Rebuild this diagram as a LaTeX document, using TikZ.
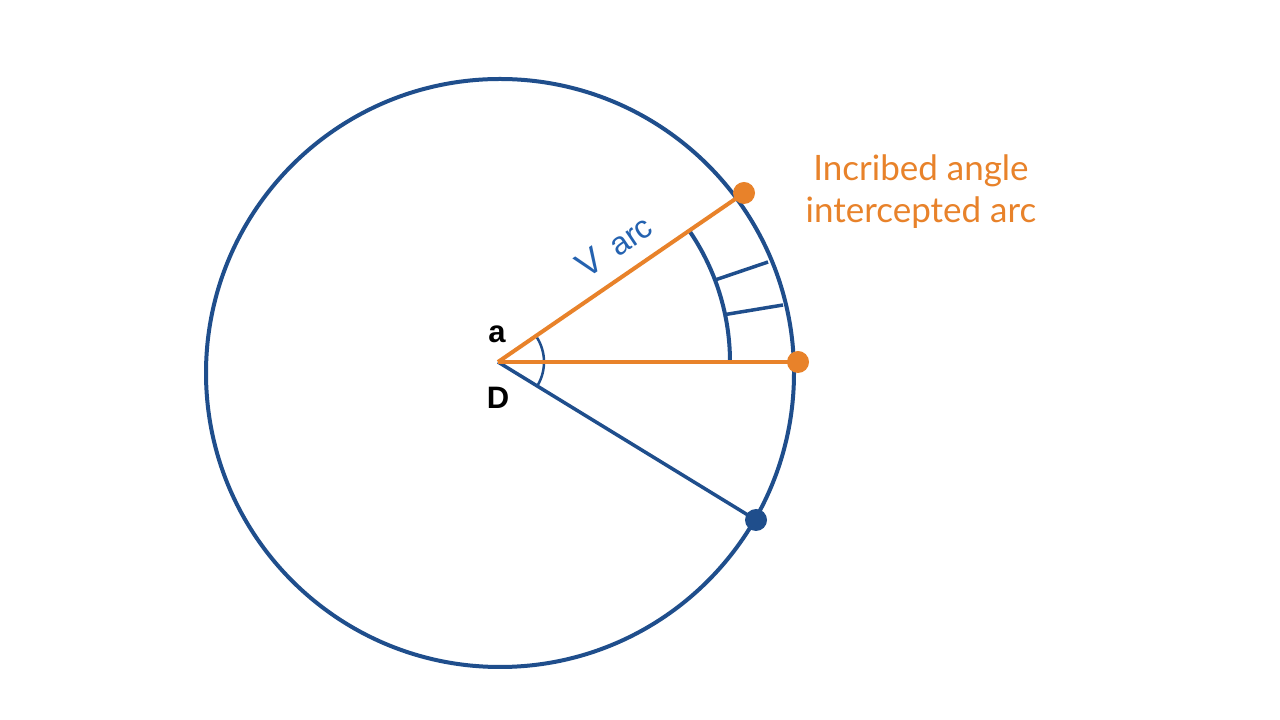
\documentclass[tikz,border=0pt]{standalone}
\usepackage{fontspec}
\usetikzlibrary{calc}
\setmainfont{Liberation Sans}
\newfontfamily\notefont{Lato}
\definecolor{cblue}{HTML}{1F4E8C}
\definecolor{tblue}{HTML}{2462B0}
\definecolor{corange}{HTML}{E8822A}
\tikzset{
  circleline/.style={cblue, line width=4},
  orangeline/.style={corange, line width=4},
  blueline/.style={cblue, line width=3.5},
  tickline/.style={cblue, line width=3.5},
  anglearc/.style={cblue, line width=2.5},
  odot/.style={circle, fill=corange, minimum size=22, inner sep=0},
  bdot/.style={circle, fill=cblue, minimum size=22, inner sep=0},
  ptlabel/.style={text=black, font=\fontsize{31}{36}\selectfont\bfseries, inner sep=0},
}
\begin{document}
\begin{tikzpicture}[x=1pt,y=1pt]
\useasboundingbox (0,0) rectangle (1280,720);
\fill[white] (0,0) rectangle (1280,720);
\coordinate (C) at (500,347);
\coordinate (V) at (498,358);
\coordinate (A) at (744,527);
\coordinate (B) at (798,358);
\coordinate (E) at (756,200);
\coordinate (T1o) at (768,458);
\coordinate (T2o) at (783,415);
\coordinate (T1i) at ($(V)+(20.7:232)$);
\coordinate (T2i) at ($(V)+(11.8:232)$);
% circle
\draw[circleline] (C) circle (294);
% lower radius
\draw[blueline] (V) -- (E);
% small angle arc
\draw[anglearc] (V) ++(32:46) arc[start angle=32, end angle=-30, radius=46];
% inner arc
\draw[circleline] (V) ++(34.2:232) arc[start angle=34.2, end angle=0, radius=232];
\draw[tickline] (T1i) -- (T1o);
\draw[tickline] (T2i) -- (T2o);
% orange rays
\draw[orangeline] (V) -- (A);
\draw[orangeline] (V) -- (B);
% dots
\node[odot] (dA) at (A) {};
\node[odot] (dB) at (B) {};
\node[bdot] (dE) at (E) {};
% labels
\node[ptlabel] (la) at (497,386) {a};
\node[ptlabel] (lD) at (498,322) {D};
\node[text=tblue, font=\fontsize{32}{36}\selectfont, rotate=34, inner sep=0] (varc) at (614,474) {{\fontsize{36}{36}\selectfont V}\, arc};
\node[text=corange, font=\notefont\fontsize{35}{42}\selectfont, align=center, inner sep=0] (note) at (921,528) {Incribed angle\\intercepted arc};
\end{tikzpicture}
\end{document}
